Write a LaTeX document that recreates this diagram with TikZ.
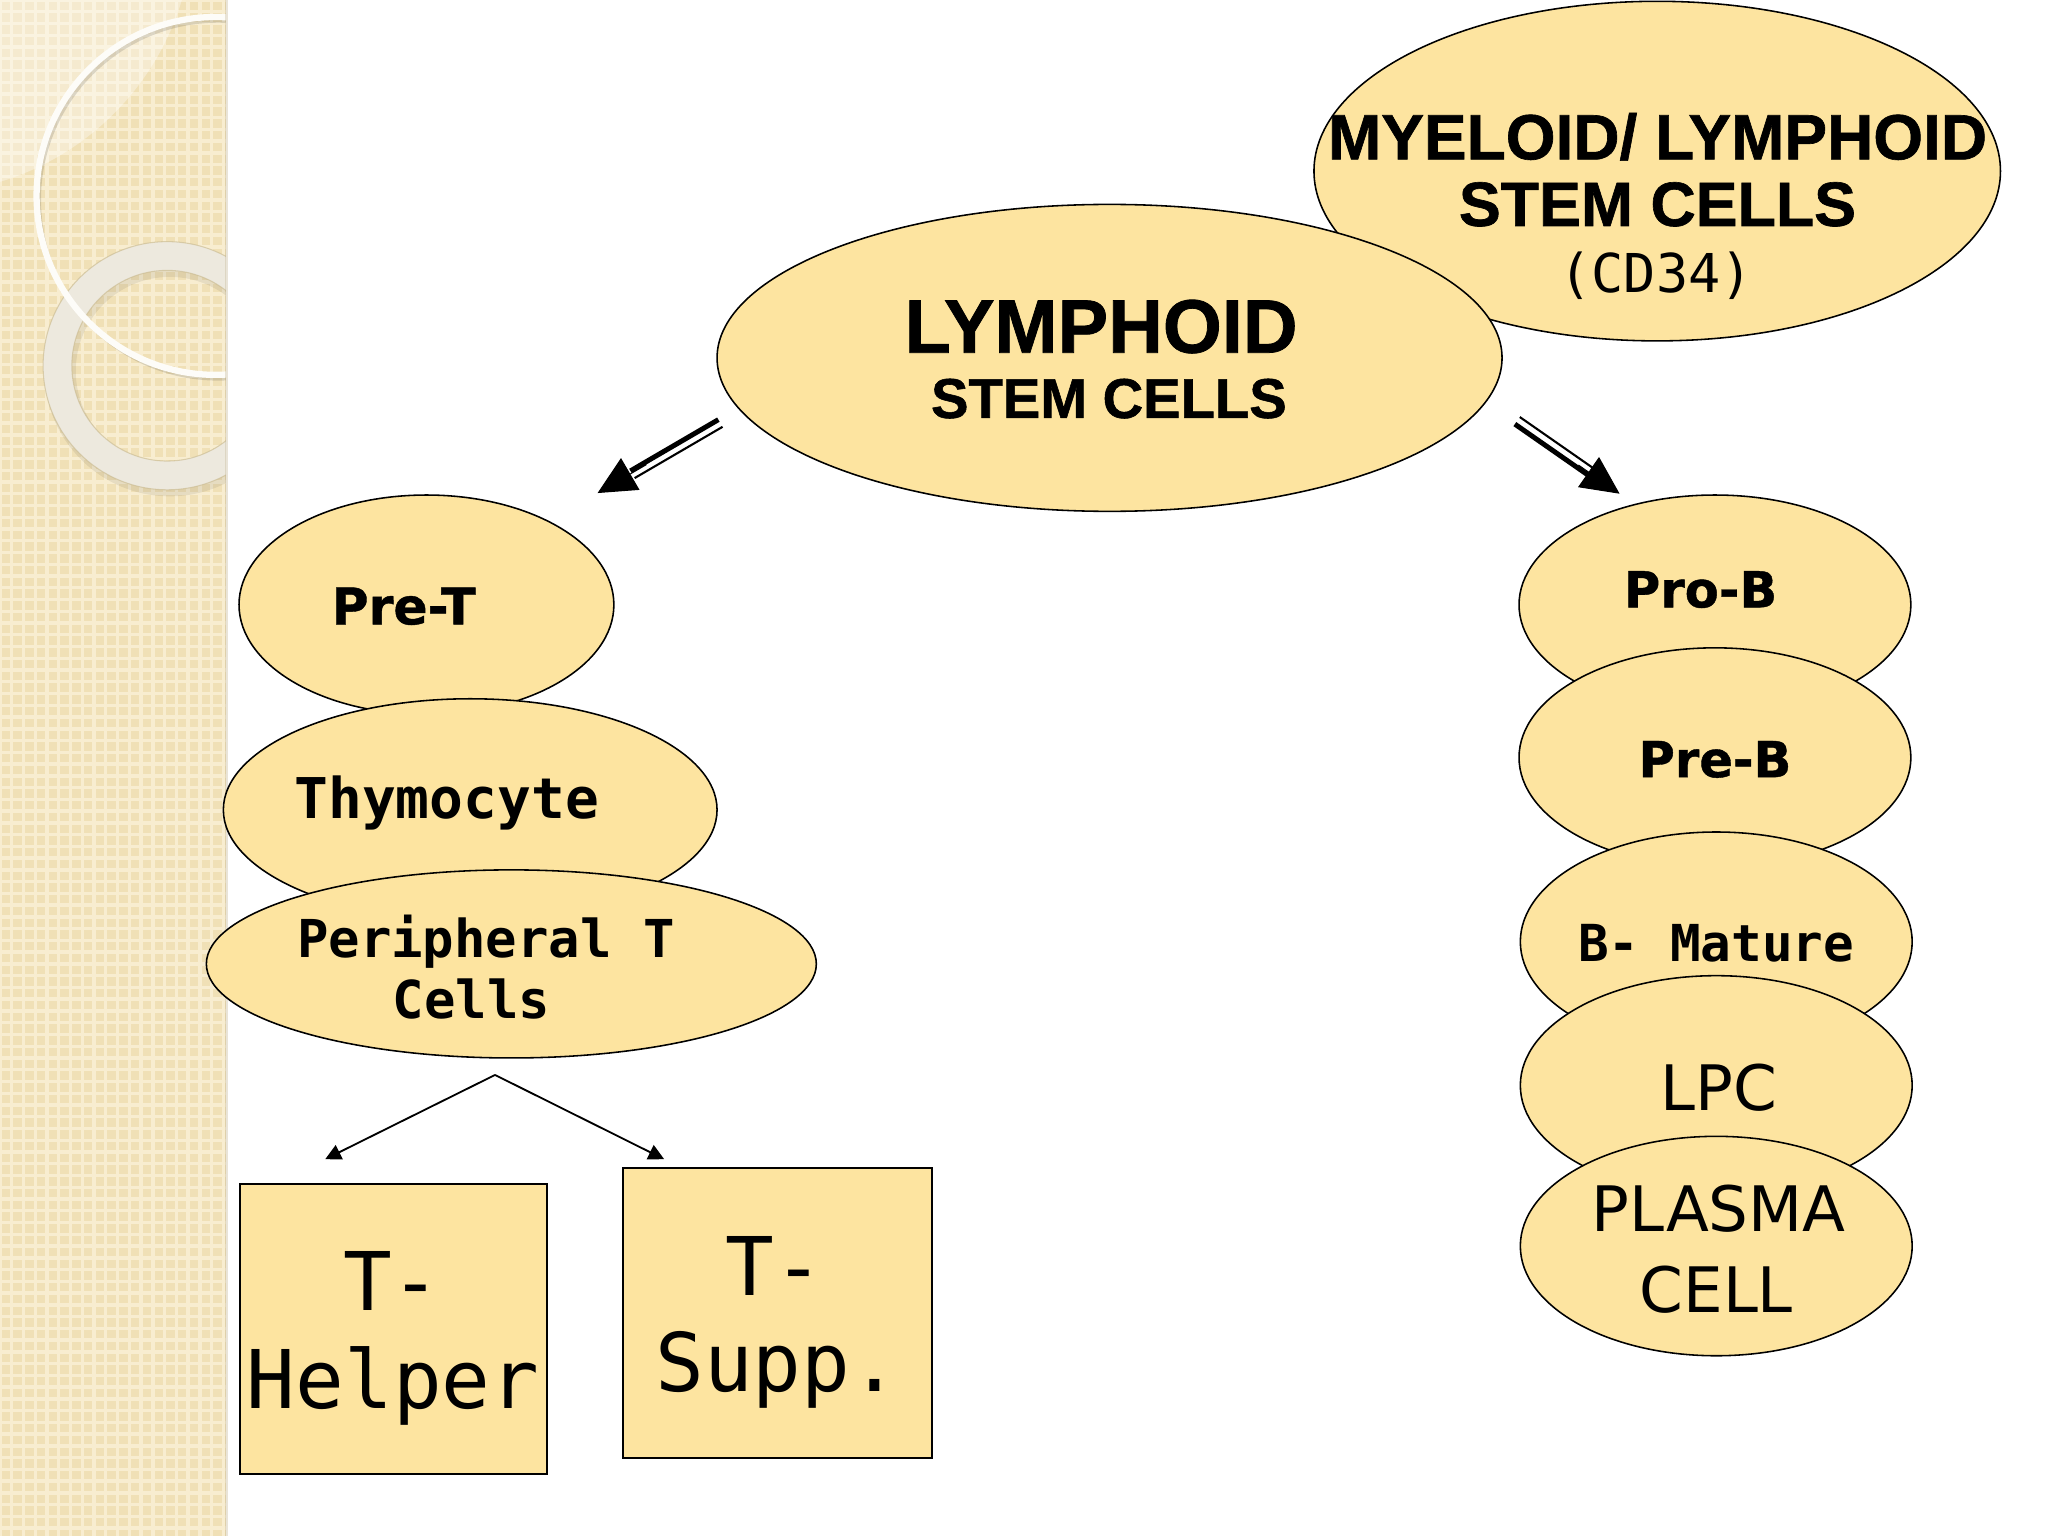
\documentclass[tikz,border=0pt]{standalone}
\usepackage{fontspec}
\usetikzlibrary{shapes.geometric,arrows.meta,calc}
\newfontfamily\blackf{Liberation Sans Bold}[FakeBold=1.0]
\newfontfamily\verdb{DejaVu Sans Bold}[FakeBold=0.8]
\newfontfamily\monob{DejaVu Sans Mono Bold}
\newfontfamily\monor{DejaVu Sans Mono}
\newfontfamily\dvsans{DejaVu Sans}
\definecolor{cellfill}{RGB}{253,228,160}
\definecolor{stripbg}{RGB}{240,224,182}
\definecolor{stripgrid}{RGB}{248,237,208}
\definecolor{ringc}{RGB}{237,233,222}
\definecolor{ringedge}{RGB}{200,184,140}
\tikzset{
  cell/.style={ellipse, draw=black, fill=cellfill, line width=0.6pt, inner sep=0pt, outer sep=0pt},
  boxnode/.style={rectangle, draw=black, fill=cellfill, line width=0.8pt, inner sep=0pt, outer sep=0pt},
  lbl/.style={anchor=base, inner sep=0pt, text=black},
  thickshaft/.style={draw=black, line width=1.9pt},
  thinshaft/.style={draw=black, line width=0.8pt},
  bighead/.style={-{Triangle[length=14.5pt,width=14pt]}, line width=0.4pt},
  smallarrow/.style={-{Triangle[length=6pt,width=6pt]}, line width=0.7pt}
}
\begin{document}
\begin{tikzpicture}[x=0.5pt,y=-0.5pt]
\useasboundingbox (0,0) rectangle (1568,1176);
\fill[white] (0,0) rectangle (1568,1176);
% decorative strip
\fill[stripbg] (0,0) rectangle (173,1176);
\begin{scope}
  \clip (0,0) rectangle (173,1176);
  \foreach \i in {0,9,...,180} { \draw[stripgrid, line width=1.3pt] (\i,0) -- (\i,1176); }
  \foreach \j in {0,9,...,1176} { \draw[stripgrid, line width=1.3pt] (0,\j) -- (176,\j); }
  \begin{scope}
    \clip (-60,-60) circle (208);
    \fill[white, opacity=0.35] (0,0) rectangle (173,300);
  \end{scope}
  \fill[black, opacity=0.07, even odd rule] (130,284) circle (96) (130,284) circle (72);
  \fill[ringc, even odd rule] (128,280) circle (95) (128,280) circle (73);
  \draw[ringedge, opacity=0.6, line width=0.4pt] (128,280) circle (95);
  \draw[ringedge, opacity=0.6, line width=0.4pt] (128,280) circle (73);
  \draw[black, opacity=0.12, line width=1.4pt] (167,153) circle (137);
  \draw[white!90!stripbg, line width=2.4pt] (165,150) circle (137);
\end{scope}
\draw[stripbg!80!black, opacity=0.35, line width=1pt] (173.5,0) -- (173.5,1176);

% top ellipses
\node[cell, minimum width=262.8pt, minimum height=130pt] (myel) at (1268.8,131) {};
\node[lbl, font=\blackf\fontsize{24.5}{28}\selectfont] (myelA) at (1269,122) {MYELOID/ LYMPHOID};
\node[lbl, font=\blackf\fontsize{24}{28}\selectfont] (myelB) at (1269,173) {STEM CELLS};
\node[lbl, font=\monor\fontsize{20.5}{24}\selectfont] (myelC) at (1268,224) {(CD34)};

\node[cell, minimum width=300.5pt, minimum height=117.5pt] (lymph) at (849.5,274) {};
\node[lbl, font=\blackf\fontsize{29}{33}\selectfont] (lymphA) at (843,270) {LYMPHOID};
\node[lbl, font=\blackf\fontsize{21.5}{25}\selectfont] (lymphB) at (849,320) {STEM CELLS};

% big arrows
\coordinate (la1) at (551,323);
\coordinate (la2) at (457.5,377.5);
\coordinate (ra1) at (1161,323);
\coordinate (ra2) at (1240,378);
\draw[thickshaft] ($(la1)+(-1,-1.7)$) -- ($(la1)!0.72!(la2)+(-1,-1.7)$);
\draw[thinshaft] ($(la1)+(2.2,3.8)$) -- ($(la1)!0.72!(la2)+(2.2,3.8)$);
\draw[thickshaft] ($(ra1)+(-1.2,1.7)$) -- ($(ra1)!0.72!(ra2)+(-1.2,1.7)$);
\draw[thinshaft] ($(ra1)+(2.6,-3.7)$) -- ($(ra1)!0.72!(ra2)+(2.6,-3.7)$);
\draw[bighead] ($(la1)!0.6!(la2)$) -- (la2);
\draw[bighead] ($(ra1)!0.6!(ra2)$) -- (ra2);

% T-cell chain
\node[cell, minimum width=143.5pt, minimum height=84pt] (pret) at (326.5,463) {};
\node[lbl, font=\verdb\fontsize{19.3}{22}\selectfont] (pretT) at (309,478) {Pre-T};
\node[cell, minimum width=189pt, minimum height=85pt] (thymo) at (360,620) {};
\node[lbl, font=\monob\fontsize{21.5}{25}\selectfont] (thymoT) at (342,627) {Thymocyte};
\node[cell, minimum width=233.5pt, minimum height=72pt] (perit) at (391.5,738) {};
\node[lbl, font=\monob\fontsize{20}{24}\selectfont] (peritA) at (372,733) {Peripheral T};
\node[lbl, font=\monob\fontsize{20}{24}\selectfont] (peritB) at (361,780) {Cells};

% fork arrows
\coordinate (fork) at (379,823);
\coordinate (fl) at (249,887.5);
\coordinate (fr) at (508.5,887.5);
\draw[smallarrow] (fork) -- (fl);
\draw[smallarrow] (fork) -- (fr);

% boxes
\node[boxnode, minimum width=117.5pt, minimum height=111pt] (thelp) at (301,1017.5) {};
\node[lbl, font=\monor\fontsize{31}{36}\selectfont] (thelpA) at (300,1003) {T-};
\node[lbl, font=\monor\fontsize{31}{36}\selectfont] (thelpB) at (301,1078) {Helper};
\node[boxnode, minimum width=118pt, minimum height=111pt] (tsupp) at (595.3,1005) {};
\node[lbl, font=\monor\fontsize{31}{36}\selectfont] (tsuppA) at (593,992) {T-};
\node[lbl, font=\monor\fontsize{31}{36}\selectfont] (tsuppB) at (595,1065) {Supp.};

% B-cell chain
\node[cell, minimum width=150pt, minimum height=84pt] (prob) at (1313,463) {};
\node[lbl, font=\verdb\fontsize{19}{22}\selectfont] (probT) at (1302,465) {Pro-B};
\node[cell, minimum width=150pt, minimum height=84pt] (preb) at (1313,580) {};
\node[lbl, font=\verdb\fontsize{19}{22}\selectfont] (prebT) at (1313,595) {Pre-B};
\node[cell, minimum width=150pt, minimum height=84pt] (bmat) at (1314,721) {};
\node[lbl, font=\monob\fontsize{19.5}{23}\selectfont] (bmatT) at (1314,736) {B- Mature};
\node[cell, minimum width=150pt, minimum height=84pt] (lpc) at (1314,831) {};
\node[lbl, font=\dvsans\fontsize{24}{28}\selectfont] (lpcT) at (1316,850) {LPC};
\node[cell, minimum width=150pt, minimum height=84pt] (plasma) at (1314,954) {};
\node[lbl, font=\dvsans\fontsize{24}{28}\selectfont] (plasmaA) at (1316,943) {PLASMA};
\node[lbl, font=\dvsans\fontsize{24}{28}\selectfont] (plasmaB) at (1314,1005) {CELL};
\end{tikzpicture}
\end{document}
